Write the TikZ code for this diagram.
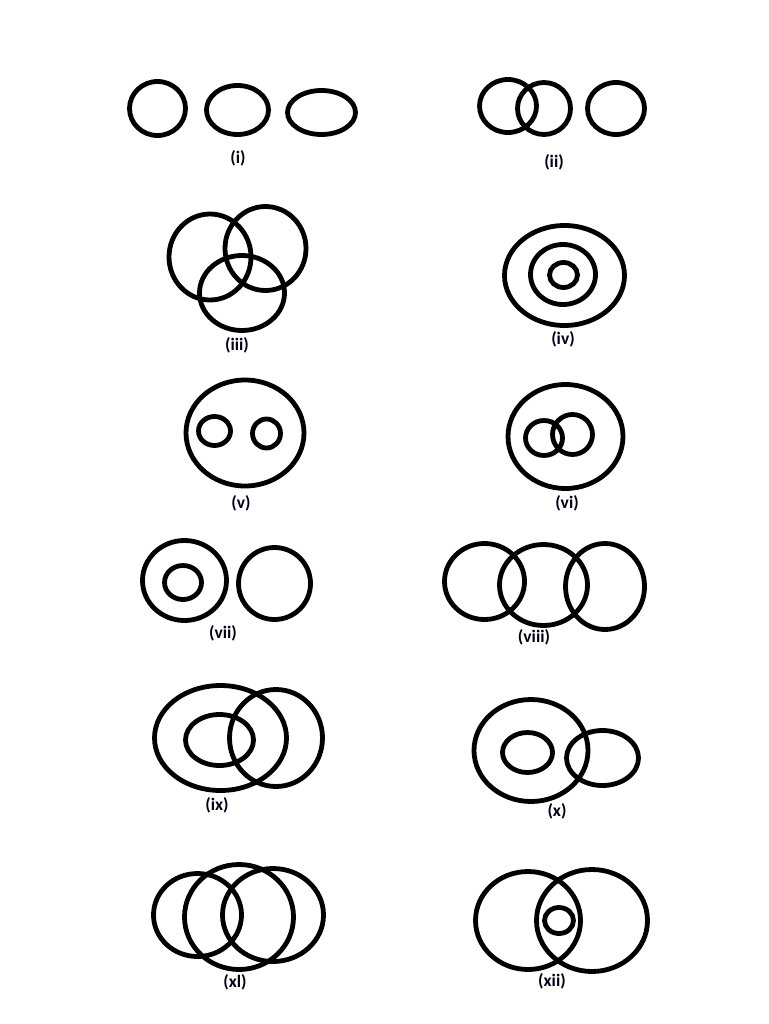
\documentclass[tikz,border=0pt]{standalone}
\usepackage{fontspec}
\setmainfont{Carlito}
\begin{document}
\begin{tikzpicture}[x=1pt,y=-1pt,
  ring/.style={line width=4.8pt, draw=black},
  lab/.style={inner sep=0pt, anchor=center, font=\fontsize{17.5}{20}\selectfont\bfseries, text=black!90!blue}]
\useasboundingbox[fill=white] (0,0) rectangle (768,1024);
% (i)
\draw[ring] (157.5,108.5) ellipse [x radius=28pt, y radius=27pt];
\draw[ring] (237.5,110) ellipse [x radius=31pt, y radius=24.5pt];
\draw[ring] (321.5,112.5) ellipse [x radius=34pt, y radius=22pt];
\node[lab] (l1) at (238,158) {(i)};
% (ii)
\draw[ring] (508,106) ellipse [x radius=28.5pt, y radius=26.5pt];
\draw[ring] (544,108.5) ellipse [x radius=26.5pt, y radius=26pt];
\draw[ring] (616,108.5) ellipse [x radius=28.5pt, y radius=26pt];
\node[lab] (l2) at (554,162) {(ii)};
% (iii)
\draw[ring] (210,257) ellipse [x radius=41pt, y radius=43pt];
\draw[ring] (265.5,248.5) ellipse [x radius=40.5pt, y radius=42pt];
\draw[ring] (242,293) ellipse [x radius=42.5pt, y radius=37.5pt];
\node[lab] (l3) at (237,345) {(iii)};
% (iv)
\draw[ring] (564.5,275.5) ellipse [x radius=60pt, y radius=50pt];
\draw[ring] (563,274.5) ellipse [x radius=32.5pt, y radius=30pt];
\draw[ring] (563.5,275) ellipse [x radius=14pt, y radius=12.5pt];
\node[lab] (l4) at (563,339) {(iv)};
% (v)
\draw[ring] (245,433) ellipse [x radius=59pt, y radius=53pt];
\draw[ring] (214.5,431) ellipse [x radius=16pt, y radius=14.5pt];
\draw[ring] (266.5,433.5) ellipse [x radius=14pt, y radius=14.5pt];
\node[lab] (l5) at (241,503) {(v)};
% (vi)
\draw[ring] (565.5,436.5) ellipse [x radius=57.5pt, y radius=52pt];
\draw[ring] (544,438) ellipse [x radius=18.5pt, y radius=17.5pt];
\draw[ring] (572.5,434.5) ellipse [x radius=20pt, y radius=20pt];
\node[lab] (l6) at (567,503) {(vi)};
% (vii)
\draw[ring] (184.5,580.5) ellipse [x radius=42pt, y radius=40pt];
\draw[ring] (183,582.5) ellipse [x radius=18.5pt, y radius=17pt];
\draw[ring] (274.5,583.5) ellipse [x radius=36pt, y radius=36pt];
\node[lab] (l7) at (223,633) {(vii)};
% (viii)
\draw[ring] (484.5,581.5) ellipse [x radius=40pt, y radius=38pt];
\draw[ring] (543.5,585) ellipse [x radius=44pt, y radius=40.5pt];
\draw[ring] (605,586.5) ellipse [x radius=39.5pt, y radius=43pt];
\node[lab] (l8) at (534,637) {(viii)};
% (ix)
\draw[ring] (220.5,738) ellipse [x radius=66pt, y radius=52.5pt];
\draw[ring] (219.5,740) ellipse [x radius=34pt, y radius=25.5pt];
\draw[ring] (276,738) ellipse [x radius=46.5pt, y radius=48.5pt];
\node[lab] (l9) at (217,805) {(ix)};
% (x)
\draw[ring] (531,750.5) ellipse [x radius=57pt, y radius=51pt];
\draw[ring] (527.5,752.5) ellipse [x radius=25pt, y radius=20pt];
\draw[ring] (602.5,758) ellipse [x radius=36pt, y radius=27.5pt];
\node[lab] (l10) at (557,811) {(x)};
% (xi)
\draw[ring] (197.5,915) ellipse [x radius=44pt, y radius=41.5pt];
\draw[ring] (239,917) ellipse [x radius=54.5pt, y radius=52.5pt];
\draw[ring] (273,915) ellipse [x radius=50.5pt, y radius=46.5pt];
\node[lab] (l11) at (235,982) {(xl)};
% (xii)
\draw[ring] (528,920.5) ellipse [x radius=52.5pt, y radius=49pt];
\draw[ring] (592,920.5) ellipse [x radius=55.5pt, y radius=51pt];
\draw[ring] (559,920.5) ellipse [x radius=14.5pt, y radius=13pt];
\node[lab] (l12) at (552,981) {(xii)};
\end{tikzpicture}
\end{document}
